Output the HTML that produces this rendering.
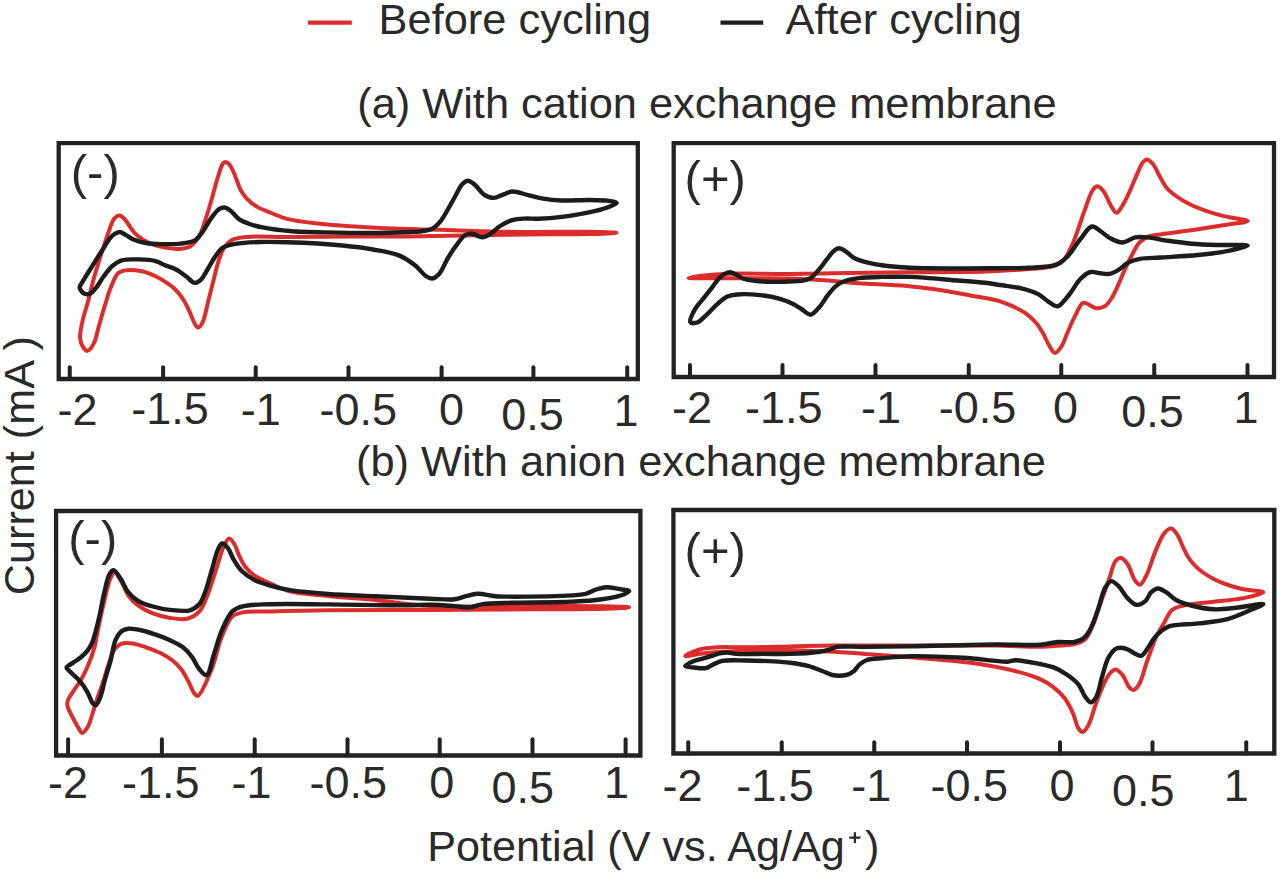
<!DOCTYPE html>
<html><head><meta charset="utf-8"><style>
html,body{margin:0;padding:0;background:#fff;width:1280px;height:874px;overflow:hidden}
svg{display:block}
text{font-family:"Liberation Sans",sans-serif;fill:#2a2a2a}
.ax{fill:none;stroke:#222;stroke-width:4.3;stroke-linejoin:miter;stroke-linecap:butt}
.tk{stroke:#222;stroke-width:4;stroke-linecap:round}
.r{fill:none;stroke:#dc2d2d;stroke-width:4.0;stroke-linejoin:round;stroke-linecap:round}
.k{fill:none;stroke:#1c1c1c;stroke-width:4.4;stroke-linejoin:round;stroke-linecap:round}
.tl{font-size:45px}
</style></head><body>
<svg width="1280" height="874" viewBox="0 0 1280 874">
<!-- legend -->
<line x1="307.8" y1="22.6" x2="351.8" y2="22.6" stroke="#dc2d2d" stroke-width="4.4"/>
<text x="378.6" y="33.9" font-size="43.4">Before cycling</text>
<line x1="720.5" y1="22.6" x2="763.2" y2="22.6" stroke="#1c1c1c" stroke-width="4.4"/>
<text x="785.6" y="33.9" font-size="43.4">After cycling</text>
<!-- titles -->
<text x="357.2" y="118.3" font-size="43.4">(a) With cation exchange membrane</text>
<text x="356.0" y="476.3" font-size="43.4">(b) With anion exchange membrane</text>
<text x="427.2" y="860.5" font-size="43.2">Potential (V vs. Ag/Ag</text>
<path d="M849.3,837.6 H860.5 M854.9,832.3 V843" stroke="#2a2a2a" stroke-width="2.3" fill="none"/>
<text x="865.0" y="860.5" font-size="43.2">)</text>
<text transform="translate(34.3,595.2) rotate(-90)" font-size="43.2">Current (mA )</text>

<!-- panel A- -->
<path class="ax" d="M58.7,143.2 H637.8 V379 H58.7 Z"/>
<g class="tk"><line x1="69.75" y1="367.3" x2="69.75" y2="379"/><line x1="163.1" y1="367.3" x2="163.1" y2="379"/><line x1="255.7" y1="367.3" x2="255.7" y2="379"/><line x1="348.5" y1="367.3" x2="348.5" y2="379"/><line x1="441.6" y1="367.3" x2="441.6" y2="379"/><line x1="533.4" y1="367.3" x2="533.4" y2="379"/><line x1="627.2" y1="367.3" x2="627.2" y2="379"/></g>

<!-- panel A+ -->
<path class="ax" d="M673.7,143.2 H1274 V377 H673.7 Z"/>
<g class="tk"><line x1="690" y1="364.9" x2="690" y2="377"/><line x1="782.5" y1="364.9" x2="782.5" y2="377"/><line x1="875.5" y1="364.9" x2="875.5" y2="377"/><line x1="968.75" y1="364.9" x2="968.75" y2="377"/><line x1="1061.25" y1="364.9" x2="1061.25" y2="377"/><line x1="1154.25" y1="364.9" x2="1154.25" y2="377"/><line x1="1247.5" y1="364.9" x2="1247.5" y2="377"/></g>

<!-- panel B- -->
<path class="ax" d="M56.1,511 H640.4 V755.5 H56.1 Z"/>
<g class="tk"><line x1="68.1" y1="739.2" x2="68.1" y2="755.5"/><line x1="161.9" y1="739.2" x2="161.9" y2="755.5"/><line x1="254.7" y1="739.2" x2="254.7" y2="755.5"/><line x1="347.5" y1="739.2" x2="347.5" y2="755.5"/><line x1="439.7" y1="739.2" x2="439.7" y2="755.5"/><line x1="532.5" y1="739.2" x2="532.5" y2="755.5"/><line x1="625.6" y1="739.2" x2="625.6" y2="755.5"/></g>

<!-- panel B+ -->
<path class="ax" d="M673.4,510 H1274.3 V753.5 H673.4 Z"/>
<g class="tk"><line x1="688.25" y1="742.3" x2="688.25" y2="753.5"/><line x1="781.75" y1="742.3" x2="781.75" y2="753.5"/><line x1="874.25" y1="742.3" x2="874.25" y2="753.5"/><line x1="967" y1="742.3" x2="967" y2="753.5"/><line x1="1060" y1="742.3" x2="1060" y2="753.5"/><line x1="1152.5" y1="742.3" x2="1152.5" y2="753.5"/><line x1="1246.25" y1="742.3" x2="1246.25" y2="753.5"/></g>

<!-- LABELS -->
<text x="57.6" y="424.8" class="tl">-2</text>
<text x="131.3" y="424.4" class="tl">-1.5</text>
<text x="240.7" y="425.0" class="tl">-1</text>
<text x="319.5" y="424.8" class="tl">-0.5</text>
<text x="438.9" y="425.1" class="tl">0</text>
<text x="501.3" y="429.8" class="tl">0.5</text>
<text x="613.6" y="425.5" class="tl">1</text>
<text x="672.0" y="422.9" class="tl">-2</text>
<text x="744.9" y="422.5" class="tl">-1.5</text>
<text x="861.1" y="422.9" class="tl">-1</text>
<text x="938.7" y="422.5" class="tl">-0.5</text>
<text x="1053.1" y="422.5" class="tl">0</text>
<text x="1121.3" y="426.8" class="tl">0.5</text>
<text x="1233.5" y="422.9" class="tl">1</text>
<text x="48.1" y="798.0" class="tl">-2</text>
<text x="122.1" y="797.5" class="tl">-1.5</text>
<text x="231.5" y="798.0" class="tl">-1</text>
<text x="309.5" y="797.5" class="tl">-0.5</text>
<text x="429.3" y="797.6" class="tl">0</text>
<text x="491.6" y="802.6" class="tl">0.5</text>
<text x="603.9" y="798.0" class="tl">1</text>
<text x="662.6" y="801.2" class="tl">-2</text>
<text x="736.2" y="800.8" class="tl">-1.5</text>
<text x="851.3" y="801.2" class="tl">-1</text>
<text x="930.5" y="800.8" class="tl">-0.5</text>
<text x="1049.4" y="800.8" class="tl">0</text>
<text x="1111.9" y="805.8" class="tl">0.5</text>
<text x="1223.7" y="801.2" class="tl">1</text>
<text x="70.8" y="188.7" font-size="49">(-)</text>
<text x="684.6" y="194.8" font-size="49">(+)</text>
<text x="68.3" y="554.9" font-size="49">(-)</text>
<text x="684.6" y="567.1" font-size="49">(+)</text>
<!-- /LABELS -->
<!-- CURVES -->
<path class="r" d="M616.5,232.8 C616.5,232.4 600.8,232.0 590.0,231.8 C573.1,231.5 543.2,232.1 525.0,232.0 C511.8,231.9 503.3,231.8 490.8,231.5 C475.5,231.1 454.4,230.2 440.0,229.8 C429.3,229.5 421.5,229.4 411.9,229.1 C401.7,228.8 391.0,228.5 380.6,228.0 C370.2,227.5 359.8,227.0 349.4,226.3 C339.0,225.6 328.5,224.8 318.1,223.6 C307.7,222.4 295.4,221.1 286.9,218.9 C280.7,217.3 276.4,215.0 271.4,213.0 C266.5,211.0 261.4,209.4 257.2,206.9 C253.3,204.6 249.8,201.7 247.0,198.8 C244.5,196.2 242.6,193.6 240.9,190.6 C239.2,187.5 238.2,183.9 236.9,180.5 C235.5,177.1 234.3,173.2 232.8,170.3 C231.6,167.9 230.5,165.4 229.0,164.0 C227.9,162.9 226.4,161.9 225.3,162.0 C224.4,162.1 223.6,162.7 222.8,163.8 C221.0,166.2 219.4,172.5 217.7,177.7 C215.6,184.3 213.5,193.0 211.4,200.3 C209.4,207.2 207.4,214.1 205.2,220.4 C203.2,226.2 201.7,232.3 198.9,236.8 C196.5,240.7 193.8,244.4 190.2,246.4 C186.7,248.4 181.8,248.7 177.6,248.9 C173.4,249.1 168.8,248.2 165.0,247.6 C161.9,247.1 159.6,246.7 156.5,245.7 C152.6,244.4 147.5,242.5 143.7,240.2 C140.2,238.1 137.4,235.9 134.5,232.9 C131.2,229.4 128.2,223.2 125.4,220.1 C123.5,218.0 121.8,215.7 119.9,215.5 C118.1,215.3 116.0,216.6 114.4,218.3 C112.0,220.8 110.8,226.2 108.9,231.1 C106.5,237.4 104.0,245.5 101.6,253.0 C99.1,260.8 96.6,268.7 94.3,276.8 C91.9,285.3 89.7,295.1 87.6,302.9 C85.9,309.4 83.9,314.6 82.6,320.5 C81.4,326.3 79.7,333.4 80.1,338.2 C80.4,341.7 81.5,344.8 83.0,347.0 C84.2,348.8 86.0,350.9 87.6,350.8 C89.6,350.6 92.2,346.5 93.9,343.2 C96.3,338.7 97.2,331.8 99.0,325.6 C101.0,318.8 103.2,310.8 105.3,304.2 C107.1,298.4 108.5,293.0 110.7,287.8 C112.8,282.7 114.9,276.0 118.0,273.2 C120.1,271.3 122.4,270.9 125.4,270.4 C129.7,269.7 136.7,270.3 141.8,271.3 C146.5,272.2 151.0,274.2 155.0,276.0 C158.6,277.7 161.7,279.5 165.0,281.6 C168.4,283.8 172.0,286.2 175.1,289.2 C178.4,292.4 181.4,296.5 183.9,300.5 C186.4,304.5 188.3,309.0 190.2,313.1 C192.0,317.0 193.5,322.0 195.2,324.5 C196.2,326.0 197.3,327.7 198.4,327.6 C199.8,327.5 201.5,324.5 202.8,321.9 C204.9,317.6 206.1,309.8 207.8,303.0 C209.8,295.2 212.1,285.7 214.1,277.9 C215.9,271.1 217.3,264.4 219.2,259.0 C220.7,254.7 222.0,250.8 224.2,247.6 C226.3,244.6 228.5,241.9 231.8,240.1 C235.7,238.0 240.7,237.6 246.9,236.9 C256.7,235.9 270.4,236.9 285.0,236.9 C304.8,236.9 333.6,236.7 355.0,236.6 C373.1,236.5 389.0,236.6 405.0,236.5 C419.8,236.4 433.6,236.0 447.9,235.8 C462.2,235.6 477.3,235.3 490.8,235.1 C502.8,234.9 511.8,234.7 525.0,234.5 C543.2,234.3 573.1,234.4 590.0,234.0 C600.8,233.7 616.5,233.2 616.5,232.8Z"/>
<path class="k" d="M616.7,202.8 C616.6,201.8 612.0,201.4 608.7,200.9 C603.8,200.2 596.9,200.1 590.0,200.0 C581.6,199.9 570.3,200.8 561.9,200.5 C555.0,200.2 548.9,199.6 543.1,198.6 C538.0,197.8 533.9,196.4 529.0,195.3 C523.7,194.1 516.9,191.3 512.3,191.5 C508.9,191.7 506.7,193.3 503.7,194.3 C500.5,195.4 497.0,197.9 493.7,197.9 C490.4,197.9 486.7,196.3 483.7,194.3 C480.4,192.1 478.0,187.4 475.1,185.0 C472.7,183.1 470.2,180.7 467.9,180.7 C465.9,180.7 464.0,182.4 462.2,184.3 C459.6,187.0 457.5,192.4 455.1,196.5 C452.7,200.7 450.3,205.2 447.9,209.3 C445.6,213.3 443.5,217.5 440.8,220.8 C438.3,223.9 435.6,226.9 432.2,228.7 C428.5,230.6 423.0,231.0 419.3,231.5 C416.5,231.9 415.4,231.8 411.9,231.9 C403.0,232.2 380.6,233.0 365.0,233.0 C349.4,233.0 331.5,232.5 318.1,232.2 C308.0,231.9 300.8,232.1 291.7,231.3 C281.9,230.5 269.5,228.9 261.3,227.2 C255.6,226.0 251.0,224.6 247.0,223.0 C243.9,221.8 241.5,220.9 238.9,219.1 C235.9,216.9 233.0,212.4 230.3,210.4 C228.4,209.0 226.6,207.7 224.7,207.5 C222.8,207.3 220.9,207.9 219.0,209.1 C216.4,210.8 213.9,214.5 211.4,217.9 C208.4,221.9 205.6,227.9 202.6,231.8 C200.2,235.0 198.4,238.1 195.2,240.1 C191.5,242.3 186.1,242.9 180.9,243.6 C174.9,244.4 167.5,244.2 161.4,244.1 C155.9,244.0 150.6,243.8 145.8,243.0 C141.6,242.3 137.5,241.2 134.1,239.8 C131.1,238.5 128.7,236.6 126.2,235.2 C124.1,234.0 122.0,232.1 120.0,232.0 C118.3,231.9 116.8,232.8 115.3,233.6 C113.6,234.5 112.3,235.6 110.6,237.5 C107.9,240.6 104.6,246.5 101.6,251.2 C98.5,256.0 95.4,260.9 92.4,265.8 C89.3,270.7 85.6,276.4 83.3,280.5 C81.7,283.3 79.3,285.6 79.6,287.8 C79.9,290.1 83.0,293.2 85.0,294.0 C86.7,294.6 88.9,294.1 90.6,293.3 C92.6,292.3 94.3,290.1 96.1,287.8 C98.5,284.9 100.7,280.4 103.4,276.8 C106.2,273.1 109.3,268.6 112.6,265.8 C115.4,263.4 118.1,261.5 121.7,260.4 C126.3,259.0 132.6,259.3 138.2,259.4 C144.1,259.5 151.6,259.9 156.5,261.3 C160.0,262.3 162.0,264.1 165.0,265.3 C168.2,266.6 171.7,267.3 175.1,269.0 C178.9,270.9 183.0,274.1 186.4,276.6 C189.4,278.8 191.9,282.7 194.6,282.9 C196.9,283.1 199.5,281.0 201.5,279.1 C204.0,276.7 205.6,272.6 207.8,269.0 C210.2,265.0 212.7,260.1 215.4,256.4 C217.8,253.1 219.7,249.7 222.9,247.6 C226.3,245.4 230.6,244.8 235.5,243.9 C242.2,242.7 251.2,242.3 259.5,242.0 C268.3,241.7 276.2,241.9 286.9,242.3 C302.2,242.8 326.8,244.0 342.5,245.5 C354.2,246.6 363.2,247.7 373.0,249.5 C382.2,251.2 391.9,252.5 399.4,255.6 C405.7,258.2 411.0,262.1 415.6,265.8 C419.6,269.0 422.6,273.9 425.8,276.0 C428.0,277.5 430.1,278.7 432.2,278.5 C434.6,278.2 437.1,276.1 439.3,273.7 C442.5,270.2 444.9,262.9 447.9,258.0 C450.7,253.4 453.5,249.0 456.5,245.1 C459.3,241.5 462.0,236.9 465.1,235.1 C467.4,233.8 469.7,233.5 472.2,233.7 C475.3,233.9 479.1,237.3 482.3,237.2 C485.3,237.1 488.1,235.3 490.8,233.7 C493.8,231.9 496.1,228.7 499.4,226.5 C503.1,224.1 507.9,221.4 512.3,220.1 C516.4,218.9 520.7,218.8 525.0,218.6 C529.4,218.4 533.3,218.9 538.4,218.7 C545.1,218.5 553.7,217.9 561.9,216.9 C570.9,215.8 581.6,214.1 590.0,212.2 C596.9,210.7 603.8,208.9 608.7,207.0 C612.0,205.7 616.8,203.8 616.7,202.8Z"/>
<path class="r" d="M688.6,277.9 C688.6,277.2 710.4,274.7 724.0,273.9 C742.6,272.9 768.8,274.2 790.0,274.0 C809.7,273.8 827.7,273.2 847.2,272.9 C867.6,272.6 888.0,272.5 910.0,272.3 C934.3,272.1 964.8,272.4 986.7,271.6 C1003.2,271.0 1018.0,269.9 1030.0,268.9 C1038.5,268.2 1045.8,268.4 1051.7,266.7 C1056.1,265.4 1059.4,264.4 1062.6,261.3 C1067.0,257.1 1070.2,249.1 1073.5,241.7 C1077.5,232.8 1080.8,220.5 1084.3,211.3 C1087.3,203.4 1090.0,193.5 1093.0,189.6 C1094.4,187.7 1095.8,186.3 1097.4,186.3 C1099.4,186.3 1102.0,189.3 1103.9,191.7 C1106.3,194.8 1107.8,200.3 1110.0,204.0 C1112.0,207.3 1114.3,212.7 1116.5,212.8 C1118.5,212.8 1120.6,208.4 1122.6,205.3 C1125.2,201.3 1127.7,195.5 1130.1,190.3 C1132.7,184.7 1135.4,177.6 1137.7,172.6 C1139.5,168.8 1140.8,164.9 1142.7,162.6 C1144.0,161.0 1145.5,159.4 1147.1,159.4 C1148.9,159.4 1151.0,161.8 1152.8,163.8 C1155.2,166.6 1156.9,171.3 1159.1,175.2 C1161.5,179.3 1163.6,184.1 1166.6,187.7 C1169.5,191.2 1172.8,193.7 1176.7,196.5 C1181.1,199.7 1186.4,202.7 1191.8,205.3 C1197.6,208.1 1204.3,210.3 1210.6,212.3 C1216.8,214.3 1223.2,215.8 1229.5,217.3 C1235.6,218.7 1247.7,219.9 1247.7,221.1 C1247.7,222.2 1236.4,223.1 1229.5,224.2 C1220.4,225.7 1208.5,227.6 1198.0,229.2 C1187.5,230.8 1175.7,232.2 1166.6,233.6 C1159.5,234.7 1152.6,234.7 1147.7,236.8 C1144.0,238.3 1141.3,240.5 1138.9,243.1 C1136.4,245.8 1135.0,249.3 1133.0,253.0 C1130.6,257.4 1128.1,262.5 1125.7,267.6 C1123.1,273.2 1120.6,279.9 1118.1,285.2 C1116.0,289.8 1114.2,294.1 1111.8,297.8 C1109.6,301.1 1107.3,305.0 1104.3,306.6 C1101.7,308.0 1098.2,308.4 1095.4,307.9 C1092.7,307.5 1090.2,304.9 1087.9,304.1 C1086.1,303.4 1084.5,302.2 1082.9,302.9 C1080.2,304.0 1077.7,310.9 1075.3,315.4 C1072.6,320.4 1070.1,326.5 1067.8,331.8 C1065.6,336.7 1064.2,342.3 1061.7,346.0 C1059.7,349.0 1057.1,353.1 1055.0,353.0 C1052.8,352.9 1050.8,348.0 1048.9,345.0 C1046.7,341.5 1045.1,336.8 1042.9,333.0 C1040.8,329.4 1038.8,325.9 1036.0,322.7 C1033.1,319.3 1029.5,316.0 1025.7,313.3 C1021.8,310.5 1017.2,308.4 1012.9,306.4 C1008.7,304.4 1005.3,302.9 1000.0,301.3 C992.1,299.0 979.7,297.2 969.4,295.3 C959.0,293.4 948.5,291.4 938.1,289.8 C927.7,288.3 918.4,287.0 906.9,286.0 C892.6,284.7 873.3,284.2 858.6,283.2 C846.2,282.3 835.7,281.1 824.3,280.3 C812.9,279.5 802.9,279.0 790.0,278.6 C773.4,278.1 750.8,278.3 733.0,278.2 C717.3,278.1 688.6,278.7 688.6,277.9Z"/>
<path class="k" d="M690.3,322.0 C689.1,320.1 692.8,313.2 694.9,309.4 C697.0,305.6 700.1,302.6 702.9,299.1 C705.8,295.4 709.2,291.2 712.0,287.6 C714.5,284.4 716.6,280.9 718.9,278.5 C720.8,276.6 722.6,275.0 724.6,273.9 C726.3,273.0 728.0,272.2 729.8,272.2 C731.8,272.2 734.0,273.5 736.1,274.5 C738.4,275.6 740.2,277.5 742.9,278.5 C746.1,279.7 750.2,280.2 754.4,280.8 C759.5,281.5 765.7,281.8 771.5,281.9 C777.5,282.0 784.6,281.7 790.0,281.5 C794.3,281.3 797.8,281.5 801.4,280.9 C804.7,280.3 807.8,279.8 810.6,278.1 C813.6,276.3 816.0,272.9 818.6,270.0 C821.4,266.8 824.0,263.0 826.6,259.7 C829.0,256.7 831.1,253.1 833.5,251.2 C835.3,249.7 837.2,248.3 839.2,248.3 C841.4,248.3 843.8,250.2 846.1,251.7 C848.8,253.4 850.8,256.2 854.1,258.0 C858.4,260.3 864.6,261.9 870.1,263.2 C875.7,264.6 881.2,265.3 887.3,266.0 C894.3,266.8 901.5,267.4 910.0,267.8 C921.0,268.3 933.8,268.4 947.8,268.5 C965.2,268.6 991.0,268.2 1006.2,268.1 C1015.9,268.0 1021.9,268.3 1030.0,267.8 C1038.5,267.2 1049.5,267.1 1056.1,264.6 C1060.8,262.8 1063.5,260.4 1067.0,257.0 C1071.5,252.6 1075.6,244.9 1080.0,239.6 C1084.0,234.8 1088.0,227.1 1092.0,226.5 C1095.2,226.0 1098.6,230.0 1101.7,232.0 C1104.6,233.9 1106.8,236.4 1110.0,238.1 C1113.6,240.0 1118.4,242.6 1122.6,242.5 C1126.8,242.4 1130.9,238.2 1135.2,237.4 C1139.3,236.6 1143.1,237.0 1147.7,237.4 C1153.4,237.9 1159.8,239.6 1166.6,240.6 C1174.4,241.7 1183.4,243.0 1191.8,243.7 C1200.2,244.4 1208.2,244.7 1217.0,245.0 C1226.7,245.3 1247.5,244.3 1247.7,245.6 C1247.8,246.6 1236.4,249.2 1229.5,250.6 C1220.5,252.5 1209.0,253.9 1198.0,255.0 C1186.0,256.2 1170.9,256.8 1160.3,257.5 C1152.5,258.0 1145.8,257.7 1140.0,258.8 C1135.5,259.7 1131.8,260.7 1128.2,262.6 C1124.5,264.5 1121.5,268.2 1118.1,270.1 C1115.2,271.8 1112.3,273.4 1109.3,273.9 C1106.4,274.4 1103.5,273.6 1100.5,273.3 C1097.2,273.0 1093.6,271.2 1090.4,272.0 C1086.9,272.9 1083.3,276.0 1080.3,279.0 C1076.9,282.3 1074.2,287.8 1071.5,291.5 C1069.3,294.5 1067.5,297.1 1065.2,299.6 C1062.9,302.1 1060.3,306.1 1057.5,306.4 C1054.6,306.7 1051.1,303.3 1048.0,301.3 C1044.8,299.3 1042.4,296.4 1038.6,294.4 C1033.9,291.9 1027.5,289.9 1021.4,288.4 C1014.7,286.7 1006.5,286.0 1000.0,285.0 C994.6,284.2 990.8,283.5 985.0,282.8 C977.2,281.9 967.9,281.3 957.5,280.5 C943.8,279.4 923.8,277.4 910.0,276.9 C899.3,276.5 890.5,276.7 881.5,276.9 C873.4,277.1 865.4,277.2 858.6,278.1 C853.1,278.9 847.9,279.9 843.8,281.5 C840.6,282.7 838.3,284.0 835.8,286.1 C832.9,288.5 830.4,291.9 827.8,295.2 C825.0,298.7 822.7,303.4 819.7,306.7 C816.9,309.8 813.7,314.4 810.6,314.7 C807.6,314.9 804.5,310.9 801.4,309.0 C798.3,307.2 795.4,305.2 792.1,303.6 C788.6,301.9 785.1,300.4 780.7,299.1 C774.9,297.4 767.2,295.9 760.1,295.1 C752.7,294.3 743.3,293.9 737.2,294.5 C733.1,294.9 730.1,295.3 726.9,296.8 C723.6,298.3 720.9,300.9 717.8,303.6 C714.1,306.8 710.0,311.8 706.3,315.1 C703.2,317.9 700.2,321.6 697.2,322.5 C694.9,323.2 691.2,323.4 690.3,322.0Z"/>
<path class="r" d="M67.2,703.5 C67.4,699.0 71.6,694.4 74.0,690.3 C76.2,686.6 78.7,683.8 80.9,680.0 C83.3,675.8 85.6,671.3 87.7,666.3 C90.2,660.5 92.9,653.0 94.6,646.9 C96.0,641.7 96.3,637.9 97.5,632.0 C99.2,623.6 101.9,610.7 104.2,601.2 C106.2,593.0 108.1,583.6 110.4,578.5 C111.7,575.6 112.9,572.3 114.5,572.3 C116.4,572.2 118.9,577.6 121.0,581.0 C123.7,585.3 125.8,592.0 128.9,596.2 C131.6,599.9 134.4,602.6 138.0,605.3 C142.2,608.4 147.6,611.3 152.9,613.4 C158.3,615.5 164.3,617.0 170.1,617.9 C175.7,618.8 182.0,620.0 187.0,618.8 C191.6,617.7 196.1,615.0 199.4,611.4 C203.2,607.4 205.1,601.1 207.6,595.0 C210.6,587.7 213.1,578.5 215.8,570.3 C218.6,562.1 221.2,551.2 224.1,545.6 C225.8,542.3 227.4,538.5 229.2,538.4 C230.9,538.3 233.0,542.0 234.6,544.5 C236.5,547.6 237.5,552.2 239.2,555.9 C240.9,559.5 242.5,563.0 244.9,566.2 C247.4,569.5 250.5,572.7 254.1,575.3 C258.0,578.1 262.6,579.8 267.8,582.2 C274.3,585.2 281.4,589.2 290.0,591.4 C300.8,594.2 314.6,594.6 328.0,596.0 C342.8,597.5 358.7,598.4 375.0,600.0 C392.6,601.7 409.0,604.9 430.0,606.0 C458.1,607.5 498.2,606.0 529.0,606.0 C556.0,606.0 586.7,605.8 605.0,606.2 C615.3,606.4 629.2,606.9 629.2,607.3 C629.2,607.7 615.3,608.4 605.0,608.8 C586.7,609.4 556.0,609.1 529.0,609.3 C498.2,609.5 463.2,609.8 430.0,610.0 C396.3,610.2 357.2,610.0 328.0,610.3 C306.0,610.5 285.7,611.0 270.0,611.4 C259.2,611.7 249.4,610.9 242.6,612.4 C238.2,613.3 235.3,613.9 232.3,616.6 C228.0,620.5 225.1,628.6 222.0,636.1 C218.1,645.5 215.9,658.8 211.7,669.0 C207.7,678.6 201.1,695.3 197.6,696.0 C196.3,696.3 195.3,694.7 194.2,693.3 C192.3,691.0 190.8,686.1 188.8,682.3 C186.6,678.2 184.3,673.3 181.4,669.5 C178.7,666.0 175.7,663.0 172.3,660.3 C168.7,657.5 164.6,655.1 160.4,653.0 C156.1,650.8 151.2,649.1 146.6,647.5 C142.1,645.9 137.4,644.0 132.9,643.4 C128.8,642.9 124.2,642.6 121.0,643.8 C118.3,644.8 116.5,646.7 114.6,649.3 C111.9,653.0 110.3,659.7 108.3,665.2 C106.2,671.0 104.6,677.6 102.6,683.5 C100.8,689.0 98.6,694.2 96.9,699.5 C95.2,704.5 93.9,709.7 92.3,714.4 C90.8,718.8 89.7,723.7 87.7,727.0 C86.1,729.6 83.6,733.1 82.0,733.0 C80.6,732.9 79.8,730.1 78.6,728.1 C76.9,725.3 74.7,721.6 72.9,717.8 C70.9,713.5 67.0,708.1 67.2,703.5Z"/>
<path class="k" d="M66.6,667.5 C66.8,665.8 70.7,664.5 72.9,662.9 C75.4,661.1 78.4,659.3 80.9,657.2 C83.4,655.1 85.8,652.8 87.7,650.3 C89.6,647.8 90.8,645.8 92.3,642.3 C94.7,636.4 97.1,625.9 99.1,617.6 C101.1,609.4 102.3,600.5 104.2,592.9 C105.8,586.3 107.2,578.2 109.4,574.4 C110.6,572.3 112.0,570.2 113.5,570.3 C115.6,570.4 118.6,575.7 120.9,579.0 C123.4,582.7 124.9,587.9 127.8,591.6 C130.6,595.2 134.0,598.4 138.0,600.8 C142.3,603.4 147.7,605.0 152.9,606.5 C158.4,608.1 164.1,609.3 170.1,609.9 C176.5,610.6 184.8,611.8 190.0,610.3 C193.9,609.1 196.9,606.9 199.4,604.0 C202.3,600.7 203.7,595.8 205.6,590.8 C207.9,584.8 209.7,577.1 211.7,570.3 C213.8,563.4 215.7,554.5 217.9,549.7 C219.2,546.9 220.3,543.8 222.0,543.5 C223.6,543.2 226.1,545.8 227.8,547.9 C230.1,550.6 231.3,555.6 233.5,559.3 C235.8,563.2 238.2,567.4 241.5,570.8 C245.0,574.3 249.5,577.5 254.1,579.9 C259.0,582.4 264.4,583.9 270.1,585.6 C276.3,587.4 282.3,588.9 290.0,590.2 C300.6,591.9 314.6,593.0 328.0,594.0 C342.8,595.1 358.7,595.5 375.0,596.2 C392.6,597.1 415.3,598.2 430.0,598.7 C439.8,599.0 448.0,600.0 454.6,599.2 C459.2,598.7 462.2,597.1 466.0,596.2 C469.8,595.3 473.2,594.0 477.5,593.8 C482.8,593.6 488.7,595.7 495.6,596.2 C504.9,596.9 517.5,596.7 528.4,596.6 C539.3,596.5 551.0,596.4 561.1,595.9 C569.9,595.4 579.4,595.3 585.7,593.8 C589.8,592.8 592.2,590.8 595.6,589.7 C599.0,588.6 602.5,587.4 606.2,587.2 C610.1,587.0 614.6,588.2 618.5,588.9 C622.2,589.6 629.1,590.1 629.2,591.3 C629.3,592.5 622.9,594.8 618.5,596.2 C612.1,598.2 602.8,599.3 594.0,600.3 C583.9,601.4 573.2,601.6 561.1,602.0 C546.4,602.5 526.3,602.4 512.0,602.8 C500.9,603.1 490.3,603.0 482.5,604.1 C477.2,604.9 473.8,607.0 469.3,607.4 C464.6,607.8 460.1,606.5 454.6,606.1 C447.5,605.6 438.2,604.9 430.0,604.8 C422.0,604.7 416.3,605.3 406.0,605.3 C387.4,605.4 352.1,604.6 328.0,604.4 C307.2,604.2 285.7,603.6 270.0,604.2 C259.2,604.6 249.4,604.4 242.6,606.3 C238.2,607.5 235.3,608.5 232.3,611.4 C228.2,615.4 225.0,623.2 222.0,630.0 C218.7,637.5 216.5,646.8 213.8,654.6 C211.3,661.8 209.8,674.3 206.6,675.2 C204.4,675.8 201.1,671.2 198.8,668.5 C196.3,665.5 194.9,661.0 192.4,657.5 C189.8,653.9 186.9,650.3 183.3,647.5 C179.4,644.5 174.2,642.3 169.5,640.1 C165.0,638.0 160.4,636.3 155.8,634.7 C151.2,633.1 146.6,631.5 142.0,630.5 C137.5,629.5 132.0,628.3 128.3,628.7 C125.7,629.0 123.8,629.5 121.9,631.0 C119.4,632.9 117.2,636.3 115.5,640.1 C113.1,645.4 112.4,653.9 110.6,660.6 C108.8,667.2 106.7,673.7 104.9,680.0 C103.2,685.9 102.2,692.6 100.3,697.2 C99.0,700.5 97.4,704.8 95.8,705.2 C94.7,705.5 93.5,704.2 92.5,703.0 C90.7,700.9 89.6,696.0 87.7,692.6 C85.7,689.1 83.5,685.5 80.9,682.3 C78.2,679.0 74.3,675.9 71.7,673.2 C69.7,671.1 66.4,669.2 66.6,667.5Z"/>
<path class="r" d="M685.2,656.0 C685.0,655.3 693.7,651.1 698.7,649.7 C704.3,648.1 710.6,647.7 717.5,647.3 C725.9,646.8 735.2,647.4 745.6,647.3 C758.7,647.2 775.4,646.7 790.0,646.4 C804.2,646.1 816.0,645.7 832.2,645.5 C854.2,645.3 883.5,645.5 910.0,645.5 C937.7,645.5 971.1,645.2 995.0,645.5 C1012.4,645.8 1027.9,647.0 1040.0,646.8 C1048.2,646.6 1054.4,645.9 1060.6,645.4 C1065.6,645.0 1070.1,645.1 1074.3,644.0 C1078.3,643.0 1082.3,641.9 1085.3,639.2 C1088.8,636.0 1090.6,630.4 1093.0,625.0 C1095.9,618.4 1098.6,608.7 1101.0,602.0 C1102.8,596.8 1104.5,592.4 1106.0,588.0 C1107.3,584.2 1108.3,581.2 1109.7,577.3 C1111.4,572.4 1113.0,564.1 1115.6,561.0 C1117.1,559.2 1119.0,557.8 1120.8,558.0 C1123.0,558.2 1125.5,561.2 1127.5,564.0 C1130.4,567.9 1132.2,576.7 1134.9,580.3 C1136.6,582.5 1138.4,585.0 1140.1,584.8 C1142.4,584.5 1144.6,578.7 1146.8,574.4 C1149.9,568.2 1152.5,557.9 1155.7,550.6 C1158.5,544.2 1161.3,536.5 1164.6,532.8 C1166.7,530.4 1169.2,528.1 1171.3,528.4 C1173.7,528.7 1176.1,532.9 1178.0,535.8 C1180.1,539.0 1181.3,543.5 1183.0,547.0 C1184.5,550.2 1185.8,553.2 1187.5,556.0 C1189.1,558.7 1190.9,561.1 1193.0,563.5 C1195.3,566.1 1197.8,568.6 1201.0,571.0 C1204.8,573.9 1210.1,577.1 1214.7,579.5 C1219.1,581.7 1223.4,583.4 1228.0,585.0 C1232.9,586.7 1237.8,588.0 1243.3,589.2 C1249.5,590.5 1263.2,590.7 1263.3,592.2 C1263.4,593.7 1250.7,596.6 1243.3,598.1 C1234.4,599.9 1223.5,600.6 1213.6,601.8 C1203.7,603.0 1191.5,603.6 1183.9,605.5 C1179.0,606.7 1175.2,607.4 1172.0,610.0 C1168.7,612.7 1167.1,617.6 1164.6,621.9 C1161.8,626.7 1158.7,631.6 1156.0,637.5 C1152.8,644.5 1150.0,653.3 1147.1,661.2 C1144.3,669.0 1142.0,679.7 1138.9,684.6 C1137.2,687.3 1135.2,689.8 1133.4,690.0 C1132.0,690.1 1130.7,688.8 1129.3,687.3 C1127.0,684.8 1125.1,678.0 1122.4,674.9 C1120.3,672.5 1117.8,669.5 1115.5,669.5 C1113.2,669.5 1110.7,672.4 1108.7,674.9 C1106.0,678.2 1104.0,683.7 1101.8,688.7 C1099.4,694.2 1097.2,700.4 1095.0,706.5 C1092.7,712.8 1090.8,721.3 1088.1,725.8 C1086.4,728.7 1084.4,731.9 1082.6,732.0 C1081.2,732.1 1079.8,730.3 1078.5,728.5 C1076.3,725.4 1075.2,718.3 1073.0,713.4 C1070.7,708.3 1068.0,702.7 1064.7,698.3 C1061.5,694.1 1057.8,690.5 1053.7,687.3 C1049.6,684.1 1045.2,681.5 1040.0,679.1 C1033.8,676.2 1026.7,674.1 1018.4,671.9 C1007.4,669.0 994.0,666.2 979.4,664.0 C961.1,661.2 936.8,659.5 916.9,657.8 C898.8,656.2 880.9,655.0 865.0,653.9 C851.5,653.0 840.0,652.2 827.5,651.6 C815.0,651.0 803.1,650.3 790.0,650.2 C775.7,650.1 758.2,650.6 745.0,651.0 C734.7,651.3 725.8,651.4 717.5,652.0 C710.6,652.5 704.4,653.3 698.7,654.0 C693.8,654.6 685.4,656.6 685.2,656.0Z"/>
<path class="k" d="M685.2,666.1 C685.0,665.0 690.6,662.4 694.0,661.0 C698.1,659.3 703.7,658.5 708.1,657.2 C712.1,656.0 716.0,654.2 719.4,653.4 C722.1,652.8 724.3,652.5 726.9,652.5 C729.8,652.5 732.3,653.6 736.2,653.9 C743.0,654.4 755.1,653.9 764.3,653.9 C773.1,653.9 781.2,654.2 790.0,653.9 C799.2,653.6 810.9,653.0 818.1,652.0 C822.7,651.4 826.1,650.7 829.4,649.7 C832.2,648.9 833.5,647.5 836.9,646.9 C843.2,645.8 854.5,647.0 865.0,646.9 C878.2,646.8 892.6,646.7 910.0,646.4 C933.9,646.0 971.1,644.7 995.0,644.5 C1012.4,644.3 1028.4,645.5 1040.0,644.7 C1047.3,644.2 1052.0,642.4 1057.9,642.0 C1063.5,641.6 1069.6,642.9 1074.3,642.0 C1078.0,641.2 1081.3,640.1 1084.0,637.9 C1086.9,635.6 1088.7,632.1 1090.8,628.2 C1093.5,623.2 1095.5,616.4 1097.8,610.0 C1100.3,603.0 1102.3,592.7 1105.2,587.7 C1107.0,584.6 1109.0,581.4 1111.2,581.1 C1113.4,580.8 1116.2,583.9 1118.6,586.2 C1121.7,589.2 1124.3,594.9 1127.5,598.1 C1130.3,600.9 1133.3,604.4 1136.4,604.8 C1139.3,605.2 1142.9,603.1 1145.3,601.1 C1147.9,599.0 1148.9,594.3 1151.2,592.2 C1153.2,590.4 1155.5,588.6 1157.9,588.5 C1160.5,588.4 1163.3,590.5 1166.1,592.2 C1169.5,594.2 1172.5,598.1 1176.5,600.3 C1180.8,602.7 1185.8,604.1 1191.3,605.5 C1197.9,607.2 1206.1,608.9 1213.6,609.3 C1221.0,609.7 1228.1,608.6 1235.9,607.8 C1244.6,606.9 1263.0,603.0 1263.3,604.1 C1263.5,604.9 1255.5,607.9 1250.7,610.0 C1244.4,612.7 1236.5,616.7 1228.4,618.9 C1219.3,621.4 1208.6,622.2 1198.7,623.4 C1188.8,624.6 1175.6,624.2 1169.1,626.3 C1165.6,627.5 1164.0,628.9 1161.6,630.8 C1159.0,632.8 1156.2,635.7 1154.2,638.2 C1152.4,640.3 1151.6,642.3 1149.9,644.7 C1147.6,647.9 1144.4,654.7 1141.6,655.7 C1139.8,656.3 1138.2,655.1 1136.2,654.3 C1133.4,653.2 1129.8,649.8 1126.5,648.8 C1123.4,647.9 1119.7,647.1 1116.9,648.2 C1113.7,649.5 1111.0,653.2 1108.7,657.1 C1105.6,662.3 1103.9,670.9 1101.8,677.7 C1099.8,684.2 1098.8,692.6 1096.3,696.9 C1094.7,699.6 1092.6,702.4 1090.8,702.4 C1089.0,702.4 1087.1,699.3 1085.3,696.9 C1082.9,693.7 1081.4,688.2 1078.5,684.6 C1075.5,680.9 1071.5,677.8 1067.5,675.0 C1063.3,672.1 1058.4,669.2 1053.7,667.4 C1049.2,665.7 1045.3,665.1 1040.0,664.0 C1033.0,662.6 1021.2,660.1 1015.3,660.2 C1012.0,660.3 1011.2,661.5 1007.5,661.7 C998.9,662.1 979.1,658.7 963.8,657.8 C946.8,656.8 924.7,655.9 910.0,656.2 C899.7,656.4 891.5,657.4 883.7,658.1 C877.5,658.7 871.3,658.5 866.9,660.0 C863.7,661.1 861.6,662.8 859.4,664.7 C857.2,666.6 855.9,669.5 853.7,671.2 C851.5,672.9 849.2,674.3 846.2,675.0 C842.3,675.9 836.3,675.8 832.2,675.0 C828.7,674.3 826.3,672.5 822.8,671.2 C818.6,669.6 813.8,667.5 808.7,666.1 C803.0,664.6 796.0,663.6 790.0,662.8 C784.4,662.1 779.9,661.8 773.7,661.4 C765.6,660.9 754.5,660.6 745.6,660.5 C737.4,660.4 728.2,659.7 722.2,660.9 C718.3,661.7 715.6,663.4 712.8,664.7 C710.4,665.8 708.8,667.4 706.2,668.0 C702.8,668.7 697.7,667.9 694.0,667.5 C690.8,667.2 685.4,667.1 685.2,666.1Z"/>
</svg>
</body></html>
